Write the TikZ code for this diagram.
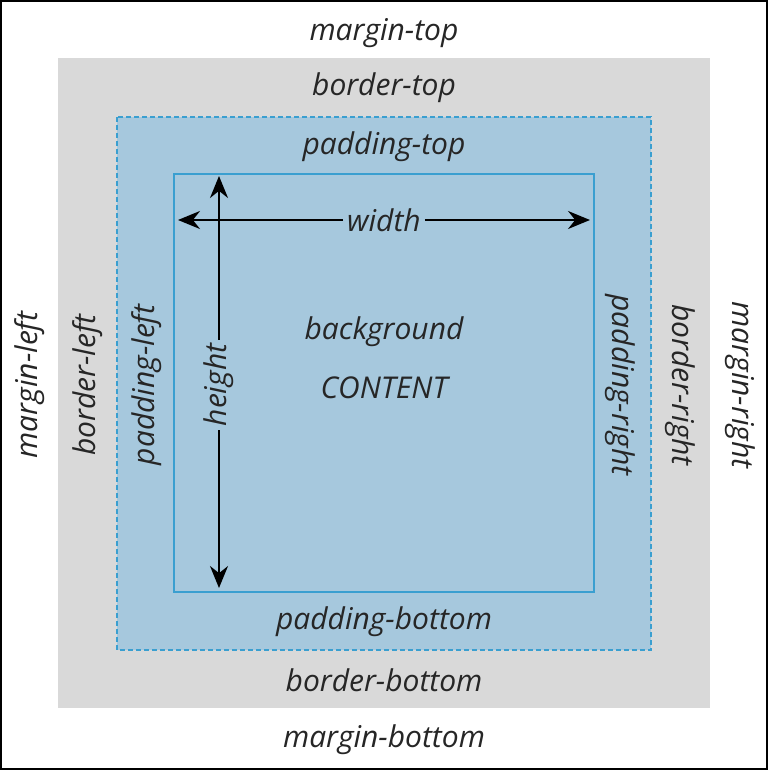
\documentclass[tikz,border=0pt]{standalone}
\usepackage{fontspec}
\setmainfont{Open Sans}
\usetikzlibrary{arrows.meta}
\definecolor{graybg}{HTML}{D9D9D9}
\definecolor{bluebg}{HTML}{A6C8DD}
\definecolor{blueln}{HTML}{3A9FD0}
\begin{document}
\begin{tikzpicture}[x=1pt,y=-1pt,
  lbl/.style={font=\fontsize{30}{32}\selectfont\itshape, text=black!85, inner sep=2pt},
  dim/.style={line width=2pt, -{Stealth[length=22pt,width=18pt]}}]
\useasboundingbox (0,0) rectangle (768,770);
\draw[line width=2pt, fill=white] (1,1) rectangle (767,769);
\fill[graybg] (58,58) rectangle (710,708);
\draw[blueln, line width=1.3pt, dash pattern=on 5pt off 3pt, fill=bluebg] (117,117) rectangle (651,650);
\draw[blueln, line width=1.5pt] (174,174) rectangle (594,592);
\node[lbl] (mt) at (384,33) {margin-top};
\node[lbl] (bt) at (384,88) {border-top};
\node[lbl] (pt) at (384,147) {padding-top};
\node[lbl] (bg) at (384,332) {background};
\node[lbl] (ct) at (384,388) {CONTENT};
\node[lbl] (pb) at (384,622) {padding-bottom};
\node[lbl] (bb) at (384,680) {border-bottom};
\node[lbl] (mb) at (384,740) {margin-bottom};
\node[lbl, rotate=90] (ml) at (30,385) {margin-left};
\node[lbl, rotate=90] (bl) at (88,385) {border-left};
\node[lbl, rotate=90] (pl) at (147,385) {padding-left};
\node[lbl, rotate=-90] (pr) at (620,385) {padding-right};
\node[lbl, rotate=-90] (br) at (680,385) {border-right};
\node[lbl, rotate=-90] (mr) at (740,385) {margin-right};
\node[lbl, inner sep=4pt] (w) at (384,220) {width};
\node[lbl, rotate=90, inner sep=4pt] (h) at (219,385) {height};
\coordinate (wl) at (178,220);
\coordinate (wr) at (590,220);
\coordinate (ht) at (219,176);
\coordinate (hb) at (219,588);
\draw[dim] (w.west) -- (wl);
\draw[dim] (w.east) -- (wr);
\draw[dim] (h.east) -- (ht);
\draw[dim] (h.west) -- (hb);
\end{tikzpicture}
\end{document}
